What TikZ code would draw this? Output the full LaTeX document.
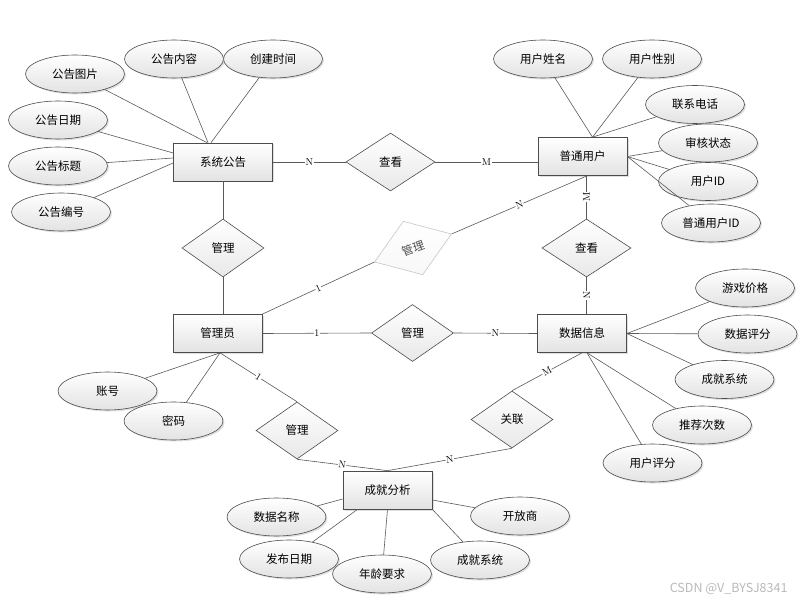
\documentclass[tikz,border=0pt]{standalone}
\usepackage{fontspec}
\newfontfamily\cjk{Noto Sans CJK SC}
\usetikzlibrary{shapes.geometric,shadows}

\begin{document}
\begin{tikzpicture}[x=1pt,y=-1pt,
    ent/.style={draw=gray!60!black,line width=0.7pt,top color=white,bottom color=gray!22,
      minimum width=89pt,minimum height=38pt,inner sep=0pt,font=\cjk\fontsize{11.5}{13}\selectfont,
      drop shadow={shadow xshift=1.5pt,shadow yshift=-1.5pt,opacity=0.25}},
    attr/.style={ellipse,draw=gray!60!black,line width=0.6pt,top color=white,bottom color=gray!22,
      minimum width=99pt,minimum height=38pt,inner sep=0pt,font=\cjk\fontsize{11.5}{13}\selectfont,
      drop shadow={shadow xshift=1.5pt,shadow yshift=-1.5pt,opacity=0.25}},
    rel/.style={diamond,draw=gray!60!black,line width=0.6pt,top color=white,bottom color=gray!18,
      minimum width=82pt,minimum height=57pt,inner sep=0pt,font=\cjk\fontsize{11.5}{13}\selectfont},
    link/.style={draw=black!65,line width=0.6pt},
    card/.style={fill=white,inner sep=0.5pt,font=\fontsize{10}{10}\selectfont,sloped}]
    \useasboundingbox (0,0) rectangle (809,604);

    \node[ent,minimum width=99pt] (sys) at (223,162) {系统公告};
    \node[ent] (user) at (582.5,156.5) {普通用户};
    \node[ent] (adm) at (217.5,333.5) {管理员};
    \node[ent] (data) at (582,333.5) {数据信息};
    \node[ent] (grp) at (387.5,490) {成就分析};

    \node[rel,minimum width=89pt,minimum height=58pt] (see1) at (390.5,162) {查看};
    \node[rel,minimum height=58pt] (mg1) at (223,248) {管理};
    \node[rel,minimum width=89pt,minimum height=58pt] (see2) at (586.5,248) {查看};
    \node[rel] (mg2) at (412.5,333) {管理};
    \node[rel] (mg3) at (297,430.5) {管理};
    \node[rel] (rl) at (512,419.5) {关联};
    \node[rel,rotate=20,draw=gray!45,text=gray!60!black,bottom color=gray!6] (mgf) at (413,248) {管理};

    \node[attr] (a-pic) at (75,74) {公告图片};
    \node[attr] (a-cont) at (174,59) {公告内容};
    \node[attr] (a-time) at (273,59) {创建时间};
    \node[attr] (a-date) at (58,120) {公告日期};
    \node[attr] (a-title) at (58,166) {公告标题};
    \node[attr] (a-no) at (61,212) {公告编号};

    \node[attr] (u-name) at (543,59) {用户姓名};
    \node[attr] (u-sex) at (652,59) {用户性别};
    \node[attr] (u-tel) at (695,104.5) {联系电话};
    \node[attr] (u-check) at (708,143) {审核状态};
    \node[attr] (u-id) at (708,181.5) {用户ID};
    \node[attr] (u-uid) at (711,223) {普通用户ID};

    \node[attr] (d-price) at (745,288) {游戏价格};
    \node[attr] (d-score) at (747.5,334) {数据评分};
    \node[attr] (d-ach) at (724.5,379.5) {成就系统};
    \node[attr] (d-rec) at (702,425) {推荐次数};
    \node[attr] (d-user) at (652.5,463) {用户评分};

    \node[attr] (m-acc) at (107.5,391) {账号};
    \node[attr] (m-pwd) at (173.5,421) {密码};

    \node[attr] (g-name) at (276.5,517) {数据名称};
    \node[attr] (g-date) at (289,559) {发布日期};
    \node[attr] (g-age) at (382,574) {年龄要求};
    \node[attr] (g-ach) at (480,560) {成就系统};
    \node[attr] (g-dev) at (520,516) {开放商};

    \draw[link] (a-pic) -- ([xshift=-16pt]sys.north);
    \draw[link] (a-cont) -- ([xshift=-15pt]sys.north);
    \draw[link] (a-time) -- ([xshift=-12pt]sys.north);
    \draw[link] (a-date) -- ([yshift=9pt]sys.west);
    \draw[link] (a-title) -- ([yshift=4pt]sys.west);
    \draw[link] (a-no) -- ([yshift=-1pt]sys.west);

    \draw[link] (u-name) -- ([xshift=10pt]user.north);
    \draw[link] (u-sex) -- ([xshift=10pt]user.north);
    \draw[link] (u-tel) -- ([xshift=10pt]user.north);
    \draw[link] (u-check) -- (user.east);
    \draw[link] (u-id) -- (user.east);
    \draw[link] (u-uid) -- (user.east);

    \draw[link] (d-price) -- (data.east);
    \draw[link] (d-score) -- (data.east);
    \draw[link] (d-ach) -- (data.east);
    \draw[link] (d-rec) -- ([xshift=5pt]data.south);
    \draw[link] (d-user) -- ([xshift=5pt]data.south);

    \draw[link] (m-acc) -- ([xshift=2.5pt]adm.south);
    \draw[link] (m-pwd) -- ([xshift=2.5pt]adm.south);

    \draw[link] (g-name) -- ([yshift=-9pt]grp.west);
    \draw[link] (g-date) -- ([xshift=-30pt]grp.south);
    \draw[link] (g-age) -- (grp.south);
    \draw[link] (g-ach) -- (grp.south east);
    \draw[link] (g-dev) -- ([yshift=-10pt]grp.east);

    \draw[link] (sys.east) -- node[card] {N} (see1.west);
    \draw[link] (see1.east) -- node[card] {M} (see1.east -| user.west);
    \draw[link] (sys.south) -- (mg1.north);
    \draw[link] (mg1.south) -- (mg1.south |- adm.north);
    \draw[link] (see2.north) -- node[card] {M} (see2.north |- user.south);
    \draw[link] (see2.south) -- node[card] {N} (see2.south |- data.north);
    \draw[link] (adm.north east) -- node[card] {1} (mgf.west);
    \draw[link] (mgf.east) -- node[card] {N} ([xshift=4.5pt]user.south);
    \draw[link] (adm.east) -- node[card] {1} (mg2.west);
    \draw[link] (mg2.east) -- node[card] {N} (data.west);
    \draw[link] ([xshift=2.5pt]adm.south) -- node[card] {1} (mg3.north);
    \draw[link] (mg3.south) -- node[card] {N} (grp.north);
    \draw[link] (rl.south) -- node[card] {N} (grp.north);
    \draw[link] (rl.north) -- node[card] {M} (data.south);

    \node[text=gray!55,font=\cjk\fontsize{12.5}{14}\selectfont,anchor=east] (mark) at (791,589) {CSDN @V\_BYSJ8341};
  \end{tikzpicture}
\end{document}
